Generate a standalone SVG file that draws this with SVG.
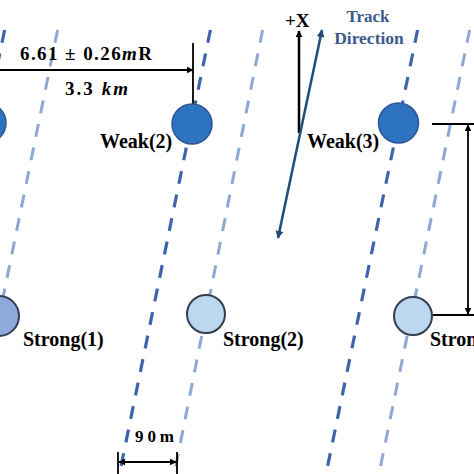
<svg xmlns="http://www.w3.org/2000/svg" width="474" height="474" viewBox="0 0 474 474">
<defs>
<style>
.t{font-family:"Liberation Serif","Times New Roman",serif;font-weight:bold;fill:#000}
.dk{stroke:#3f64ad;stroke-width:3.2;stroke-dasharray:13 11;fill:none}
.lt{stroke:#8ea8d4;stroke-width:3;stroke-dasharray:13 11;fill:none}
.weak{fill:#2e73bf;stroke:#2f5597;stroke-width:1.5}
.strong{fill:#bdd7ee;stroke:#333f50;stroke-width:2}
.dim{stroke:#000;stroke-width:1.8;fill:none}
</style>
<marker id="ah" viewBox="0 0 10 10" refX="9" refY="5" markerWidth="7" markerHeight="7" markerUnits="userSpaceOnUse" orient="auto-start-reverse">
<path d="M0,0 L10,5 L0,10 Z" fill="#000"/>
</marker>
<marker id="ahb" viewBox="0 0 10 10" refX="9" refY="5" markerWidth="8" markerHeight="8" markerUnits="userSpaceOnUse" orient="auto-start-reverse">
<path d="M0,0 L10,5 L0,10 Z" fill="#1f4e79"/>
</marker>
</defs>
<rect width="474" height="474" fill="#fff"/>
<g id="tracks">
<line class="dk" x1="4.6" y1="30" x2="-86.4" y2="474"/>
<line class="lt" x1="57.6" y1="30" x2="-33" y2="474"/>
<line class="dk" x1="210.4" y1="30" x2="119.4" y2="474"/>
<line class="lt" x1="262.6" y1="30" x2="174.2" y2="474"/>
<line class="dk" x1="417.6" y1="30" x2="326" y2="474"/>
<line class="lt" x1="469.6" y1="30" x2="379" y2="474"/>
</g>
<g id="connectors">
<line class="dim" x1="0" y1="70" x2="193" y2="70" marker-end="url(#ah)"/>
<line class="dim" x1="193" y1="43" x2="193" y2="104"/>
<line class="dim" x1="432" y1="124" x2="474" y2="124"/>
<line class="dim" x1="433" y1="315" x2="474" y2="315"/>
<line class="dim" x1="468" y1="125" x2="468" y2="314" marker-start="url(#ah)" marker-end="url(#ah)"/>
<line class="dim" x1="118" y1="452" x2="118" y2="474"/>
<line class="dim" x1="177" y1="452" x2="177" y2="474"/>
<line class="dim" x1="119" y1="462" x2="176" y2="462" marker-start="url(#ah)" marker-end="url(#ah)"/>
<line stroke="#000" stroke-width="2.5" x1="299" y1="133" x2="299" y2="31" marker-end="url(#ah)"/>
<line stroke="#1f4e79" stroke-width="2.5" x1="278" y1="238" x2="322" y2="30" marker-start="url(#ahb)" marker-end="url(#ahb)"/>
</g>
<g id="weak1"><circle class="weak" cx="-14" cy="123" r="20"/></g>
<g id="weak2"><circle class="weak" cx="192" cy="124" r="20"/><text class="t" x="100" y="148" font-size="20">Weak(2)</text></g>
<g id="weak3"><circle class="weak" cx="398.5" cy="123" r="20"/><text class="t" x="307" y="148" font-size="20">Weak(3)</text></g>
<g id="strong1"><circle class="strong" cx="-1" cy="316" r="20" style="fill:#8eaadc"/><text class="t" x="23" y="346" font-size="20">Strong(1)</text></g>
<g id="strong2"><circle class="strong" cx="206" cy="314" r="19"/><text class="t" x="223" y="346" font-size="20">Strong(2)</text></g>
<g id="strong3"><circle class="strong" cx="413" cy="316" r="19"/><text class="t" x="430" y="346" font-size="20">Strong(3)</text></g>
<g id="labels">
<text class="t" x="20" y="60" font-size="19" textLength="132" lengthAdjust="spacing">6.61 ± 0.26<tspan font-style="italic">m</tspan>R</text>
<text class="t" x="65" y="95" font-size="19" textLength="63" lengthAdjust="spacing">3.3 <tspan font-style="italic">km</tspan></text>
<text class="t" x="285" y="27" font-size="19">+X</text>
<text class="t" x="368" y="22" font-size="17" text-anchor="middle" style="fill:#3c5a8c">Track</text>
<text class="t" x="369" y="44" font-size="17.5" text-anchor="middle" style="fill:#3c5a8c">Direction</text>
<text class="t" x="135" y="442" font-size="17" textLength="39" lengthAdjust="spacing">90m</text>
</g>
</svg>
